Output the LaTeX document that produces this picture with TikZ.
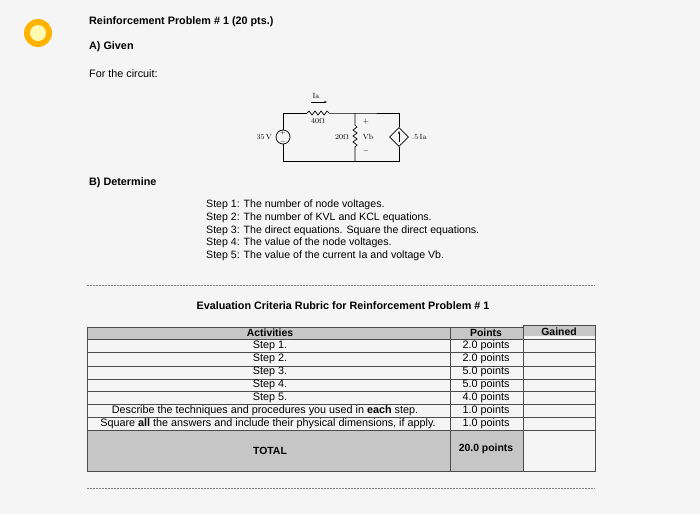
\documentclass[tikz,border=0pt]{standalone}
\usepackage{fontspec}
\setmainfont{Liberation Sans}
\usetikzlibrary{shapes.geometric,arrows.meta}
\begin{document}
\begin{tikzpicture}[x=1pt,y=-1pt,font=\fontsize{10.6}{12}\selectfont,
  txt/.style={anchor=west,inner sep=0pt},
  cell/.style={inner sep=0pt,font=\fontsize{10.8}{12}\selectfont},
  bcell/.style={inner sep=0pt,font=\bfseries\fontsize{10.4}{12}\selectfont},
  wire/.style={line width=0.7pt},
  dashline/.style={dash pattern=on 2pt off 1pt,gray,line width=0.6pt}]
\fill[gray!8] (0,0) rectangle (700,514);
\useasboundingbox (0,0) rectangle (700,514);
\fill[orange!60!yellow] (38,33) circle (14);
\fill[yellow!30] (38,33) circle (8);
% headings
\node[txt,font=\bfseries\fontsize{10.8}{12}\selectfont] (t1) at (89,22) {Reinforcement Problem \# 1 (20 pts.)};
\node[txt,font=\bfseries\fontsize{10.8}{12}\selectfont] (t2) at (89,47) {A) Given};
\node[txt,font=\fontsize{10.8}{12}\selectfont] (t3) at (89,74) {For the circuit:};
\node[txt,font=\bfseries\fontsize{10.8}{12}\selectfont] (t4) at (89,183) {B) Determine};
\node[txt] (s1) at (206,205) {Step 1: The number of node voltages.};
\node[txt] (s2) at (206,218) {Step 2: The number of KVL and KCL equations.};
\node[txt] (s3) at (206,231) {Step 3: The direct equations. Square the direct equations.};
\node[txt] (s4) at (206,243) {Step 4: The value of the node voltages.};
\node[txt] (s5) at (206,256) {Step 5: The value of the current Ia and voltage Vb.};
\node[font=\bfseries\fontsize{10.8}{12}\selectfont,inner sep=0pt] (ev) at (343,306) {Evaluation Criteria Rubric for Reinforcement Problem \# 1};
\coordinate (d1a) at (87,285); \coordinate (d1b) at (595,285);
\coordinate (d2a) at (87,488); \coordinate (d2b) at (595,488);
\draw[dashline] (d1a) -- (d1b);
\draw[dashline] (d2a) -- (d2b);
% circuit
\begin{scope}[font=\fontfamily{lmr}\fontsize{7.5}{8}\selectfont]
\coordinate (tl) at (283,113); \coordinate (bl) at (283,161);
\coordinate (tm) at (355,113); \coordinate (bm) at (355,161);
\coordinate (tr) at (399,113); \coordinate (br) at (399,161);
\node[circle,draw,wire,minimum size=14pt,inner sep=0pt] (vs) at (283,137) {};
\node[font=\fontsize{7}{7}\selectfont,inner sep=0pt] (vp) at (283,133) {$+$};
\node[font=\fontsize{7}{7}\selectfont,inner sep=0pt] (vm) at (283,142) {$-$};
\node[anchor=east,inner sep=0pt] (l35) at (272,137) {35\,V};
\coordinate (r1a) at (307,113); \coordinate (r1b) at (329,113);
\draw[wire] (bl) -- (vs.south); \draw[wire] (vs.north) -- (tl) -- (r1a);
\draw[wire] (r1a) -- ++(2,-2) -- ++(3,4) -- ++(3,-4) -- ++(3,4) -- ++(3,-4) -- ++(3,4) -- ++(3,-4) -- (r1b);
\draw[wire] (r1b) -- (tm) -- (tr);
\node[inner sep=0pt] (l40) at (318,121) {40$\Omega$};
\node[inner sep=0pt] (lia) at (316,96) {Ia};
\coordinate (iaa) at (311,102); \coordinate (iab) at (327,102);
\draw[-{Stealth[length=3pt]},line width=0.5pt] (iaa) -- (iab);
\coordinate (r2a) at (355,125); \coordinate (r2b) at (355,150);
\draw[wire] (tm) -- (r2a) -- ++(2,2) -- ++(-4,3) -- ++(4,3) -- ++(-4,3) -- ++(4,3) -- ++(-4,3) -- ++(4,3) -- ++(-2,2) -- (r2b) -- (bm);
\node[anchor=east,inner sep=0pt] (l20) at (349,137) {20$\Omega$};
\node[inner sep=0pt] (vbp) at (366,122) {$+$};
\node[inner sep=0pt] (vb) at (368,137) {Vb};
\node[inner sep=0pt] (vbm) at (366,151) {$-$};
\node[diamond,draw,wire,minimum size=19pt,inner sep=0pt] (cs) at (399,137) {};
\coordinate (csa) at (399,142); \coordinate (csb) at (399,131);
\draw[-{Stealth[length=3pt]},line width=0.8pt] (csa) -- (csb);
\draw[wire] (tr) -- (cs.north); \draw[wire] (cs.south) -- (br) -- (bl);
\node[anchor=west,inner sep=0pt] (l5) at (412,137) {.5\,Ia};
\end{scope}
% table
\fill[gray!45] (87,327) rectangle (523,339);
\fill[gray!45] (523,325) rectangle (595,336);
\fill[gray!45] (87,430) rectangle (523,471);
\draw[gray!60!black,line width=0.6pt] (87,327) rectangle (523,471);
\draw[gray!60!black,line width=0.6pt] (523,325) rectangle (595,471);
\draw[gray!60!black,line width=0.6pt] (450,327) -- (450,471);
\foreach \y in {339,352,366,379,391,404,417,430} \draw[gray!60!black,line width=0.5pt] (87,\y) -- (595,\y);
\node[bcell] (ha) at (270,333) {Activities};
\node[bcell] (hp) at (486,333) {Points};
\node[bcell] (hg) at (559,332) {Gained};
\node[cell] (a1) at (270,346) {Step 1.};
\node[cell] (a2) at (270,359) {Step 2.};
\node[cell] (a3) at (270,372) {Step 3.};
\node[cell] (a4) at (270,385) {Step 4.};
\node[cell] (a5) at (270,398) {Step 5.};
\node[cell] (a6) at (265,411) {Describe the techniques and procedures you used in \textbf{each} step.};
\node[cell] (a7) at (268,424) {Square \textbf{all} the answers and include their physical dimensions, if apply.};
\node[cell] (p1) at (486,346) {2.0 points};
\node[cell] (p2) at (486,359) {2.0 points};
\node[cell] (p3) at (486,372) {5.0 points};
\node[cell] (p4) at (486,385) {5.0 points};
\node[cell] (p5) at (486,398) {4.0 points};
\node[cell] (p6) at (486,411) {1.0 points};
\node[cell] (p7) at (486,424) {1.0 points};
\node[bcell] (tt) at (270,451) {TOTAL};
\node[bcell] (tp) at (486,449) {20.0 points};
\end{tikzpicture}
\end{document}
